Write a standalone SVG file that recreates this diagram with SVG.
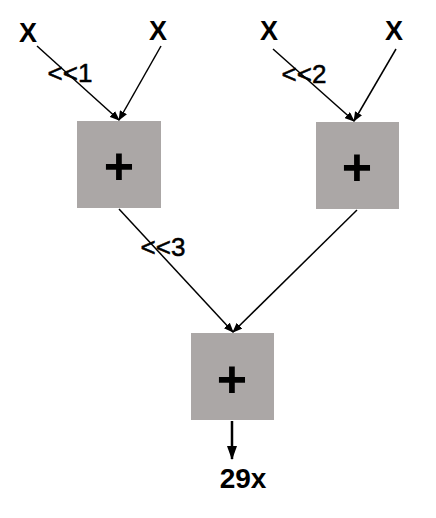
<svg xmlns="http://www.w3.org/2000/svg" width="436" height="518" viewBox="0 0 436 518">
<style>
.box{fill:#aba7a6}
.lbl{font-family:"Liberation Sans",Arial,sans-serif;font-weight:bold;font-size:27px;fill:#000;text-anchor:middle}
.res{font-family:"Liberation Sans",Arial,sans-serif;font-weight:bold;font-size:28px;fill:#000;text-anchor:middle}
.sh{font-family:"Liberation Sans",Arial,sans-serif;font-size:26px;fill:#000;stroke:#000;stroke-width:0.5;text-anchor:middle}
.plus{font-family:"Liberation Sans",Arial,sans-serif;font-weight:bold;font-size:52px;fill:#000;text-anchor:middle;dominant-baseline:central}
.ln{stroke:#000;stroke-width:1.5;fill:none;marker-end:url(#ah)}
.out{stroke:#000;stroke-width:2.5;fill:none;marker-end:url(#ah2)}
</style>
<defs>
<marker id="ah" markerWidth="10" markerHeight="8" refX="9" refY="4" orient="auto" markerUnits="userSpaceOnUse">
<path d="M0,0 L10,4 L0,8 Z" fill="#000"/>
</marker>
<marker id="ah2" markerWidth="14" markerHeight="10" refX="13" refY="5" orient="auto" markerUnits="userSpaceOnUse">
<path d="M0,0 L14,5 L0,10 Z" fill="#000"/>
</marker>
</defs>
<rect width="436" height="518" fill="#fff"/>
<g id="connectors">
<line class="ln" x1="37" y1="46" x2="119" y2="120"/>
<line class="ln" x1="161" y1="46" x2="119" y2="120"/>
<line class="ln" x1="273" y1="49" x2="354" y2="121"/>
<line class="ln" x1="396" y1="49" x2="354" y2="121"/>
<line class="ln" x1="119" y1="209" x2="233" y2="332"/>
<line class="ln" x1="357" y1="210" x2="233" y2="332"/>
<line class="out" x1="232" y1="421" x2="232" y2="459"/>
<text class="sh" x="70" y="82">&lt;&lt;1</text>
<text class="sh" x="304" y="83">&lt;&lt;2</text>
<text class="sh" x="163" y="256">&lt;&lt;3</text>
</g>
<g id="x1"><text class="lbl" x="28" y="42">X</text></g>
<g id="x2"><text class="lbl" x="158" y="40">X</text></g>
<g id="x3"><text class="lbl" x="269" y="40">X</text></g>
<g id="x4"><text class="lbl" x="394" y="40">X</text></g>
<g id="add1"><rect class="box" x="77" y="121" width="84" height="87"/><text class="plus" x="119" y="166">+</text></g>
<g id="add2"><rect class="box" x="316" y="122" width="83" height="87"/><text class="plus" x="357" y="167">+</text></g>
<g id="add3"><rect class="box" x="191" y="333" width="83" height="87"/><text class="plus" x="232" y="379">+</text></g>
<g id="result"><text class="res" x="243" y="488">29x</text></g>
</svg>
